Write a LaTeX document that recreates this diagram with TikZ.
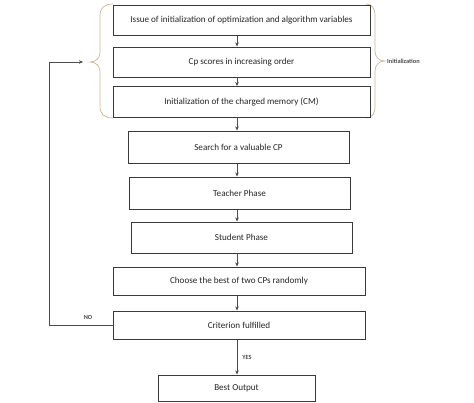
\documentclass[tikz,border=0pt]{standalone}
\usepackage{fontspec}
\setmainfont{Carlito}
\usetikzlibrary{arrows.meta}
\definecolor{boxline}{HTML}{3A3A3A}
\definecolor{brace}{HTML}{CDB893}
\begin{document}
\begin{tikzpicture}[x=1pt,y=-1pt,
  box/.style={draw=boxline,line width=1pt,fill=white,inner sep=0pt,font=\fontsize{9.1}{10}\selectfont,text=black!85},
  arr/.style={draw=black!70,line width=0.6pt,-{Stealth[length=4pt,width=3.5pt]}},
  lbl/.style={font=\fontsize{6.3}{7}\selectfont\bfseries,text=black!70,inner sep=0pt}]
\useasboundingbox (0,0) rectangle (474,402);
\fill[white] (0,0) rectangle (474,402);
% braces
\draw[brace,line width=0.7pt] (113,4) .. controls (104,4) and (100,8) .. (100,16) -- (100,52) .. controls (100,58) and (96,62) .. (90,62) .. controls (96,62) and (100,66) .. (100,72) -- (100,106) .. controls (100,114) and (104,118) .. (113,118);
\draw[brace,line width=0.7pt] (366,4) .. controls (372,4) and (375,8) .. (375,16) -- (375,51) .. controls (375,57) and (379,61) .. (385,61) .. controls (379,61) and (375,65) .. (375,71) -- (375,106) .. controls (375,114) and (372,118) .. (366,118);
% boxes
\node[box,minimum width=257pt,minimum height=30pt] (b1) at (241.5,20) {Issue of initialization of optimization and algorithm variables};
\node[box,minimum width=257pt,minimum height=30pt] (b2) at (241.5,62) {Cp scores in increasing order};
\node[box,minimum width=257pt,minimum height=31pt] (b3) at (241.5,102) {Initialization of the charged memory (CM)};
\node[box,minimum width=221pt,minimum height=32pt] (b4) at (238.5,147) {Search for a valuable CP};
\node[box,minimum width=221pt,minimum height=32pt] (b5) at (239.5,193) {Teacher Phase};
\node[box,minimum width=221pt,minimum height=31pt] (b6) at (241.5,237.5) {Student Phase};
\node[box,minimum width=252pt,minimum height=28pt] (b7) at (239,281) {Choose the best of two CPs randomly};
\node[box,minimum width=252pt,minimum height=28pt] (b8) at (239,325) {Criterion fulfilled};
\node[box,minimum width=157pt,minimum height=26pt] (b9) at (236.5,388) {Best Output};
\coordinate (ax) at (237,0);
\coordinate (lc) at (49,325);
\coordinate (fb) at (83,62);
% arrows
\draw[arr] (b1.south -| ax) -- (b2.north -| ax);
\draw[arr] (b2.south -| ax) -- (b3.north -| ax);
\draw[arr] (b3.south -| ax) -- (b4.north -| ax);
\draw[arr] (b4.south -| ax) -- (b5.north -| ax);
\draw[arr] (b5.south -| ax) -- (b6.north -| ax);
\draw[arr] (b6.south -| ax) -- (b7.north -| ax);
\draw[arr] (b7.south -| ax) -- (b8.north -| ax);
\draw[arr] (b8.south -| ax) -- node[lbl,right=5pt,pos=0.5] (yes) {YES} (b9.north -| ax);
\draw[arr] (b8.west) -- (lc) |- (fb);
% labels
\node[lbl] (no) at (88,317) {NO};
\node[lbl,anchor=west] (init) at (387,61) {Initialization};
\end{tikzpicture}
\end{document}
